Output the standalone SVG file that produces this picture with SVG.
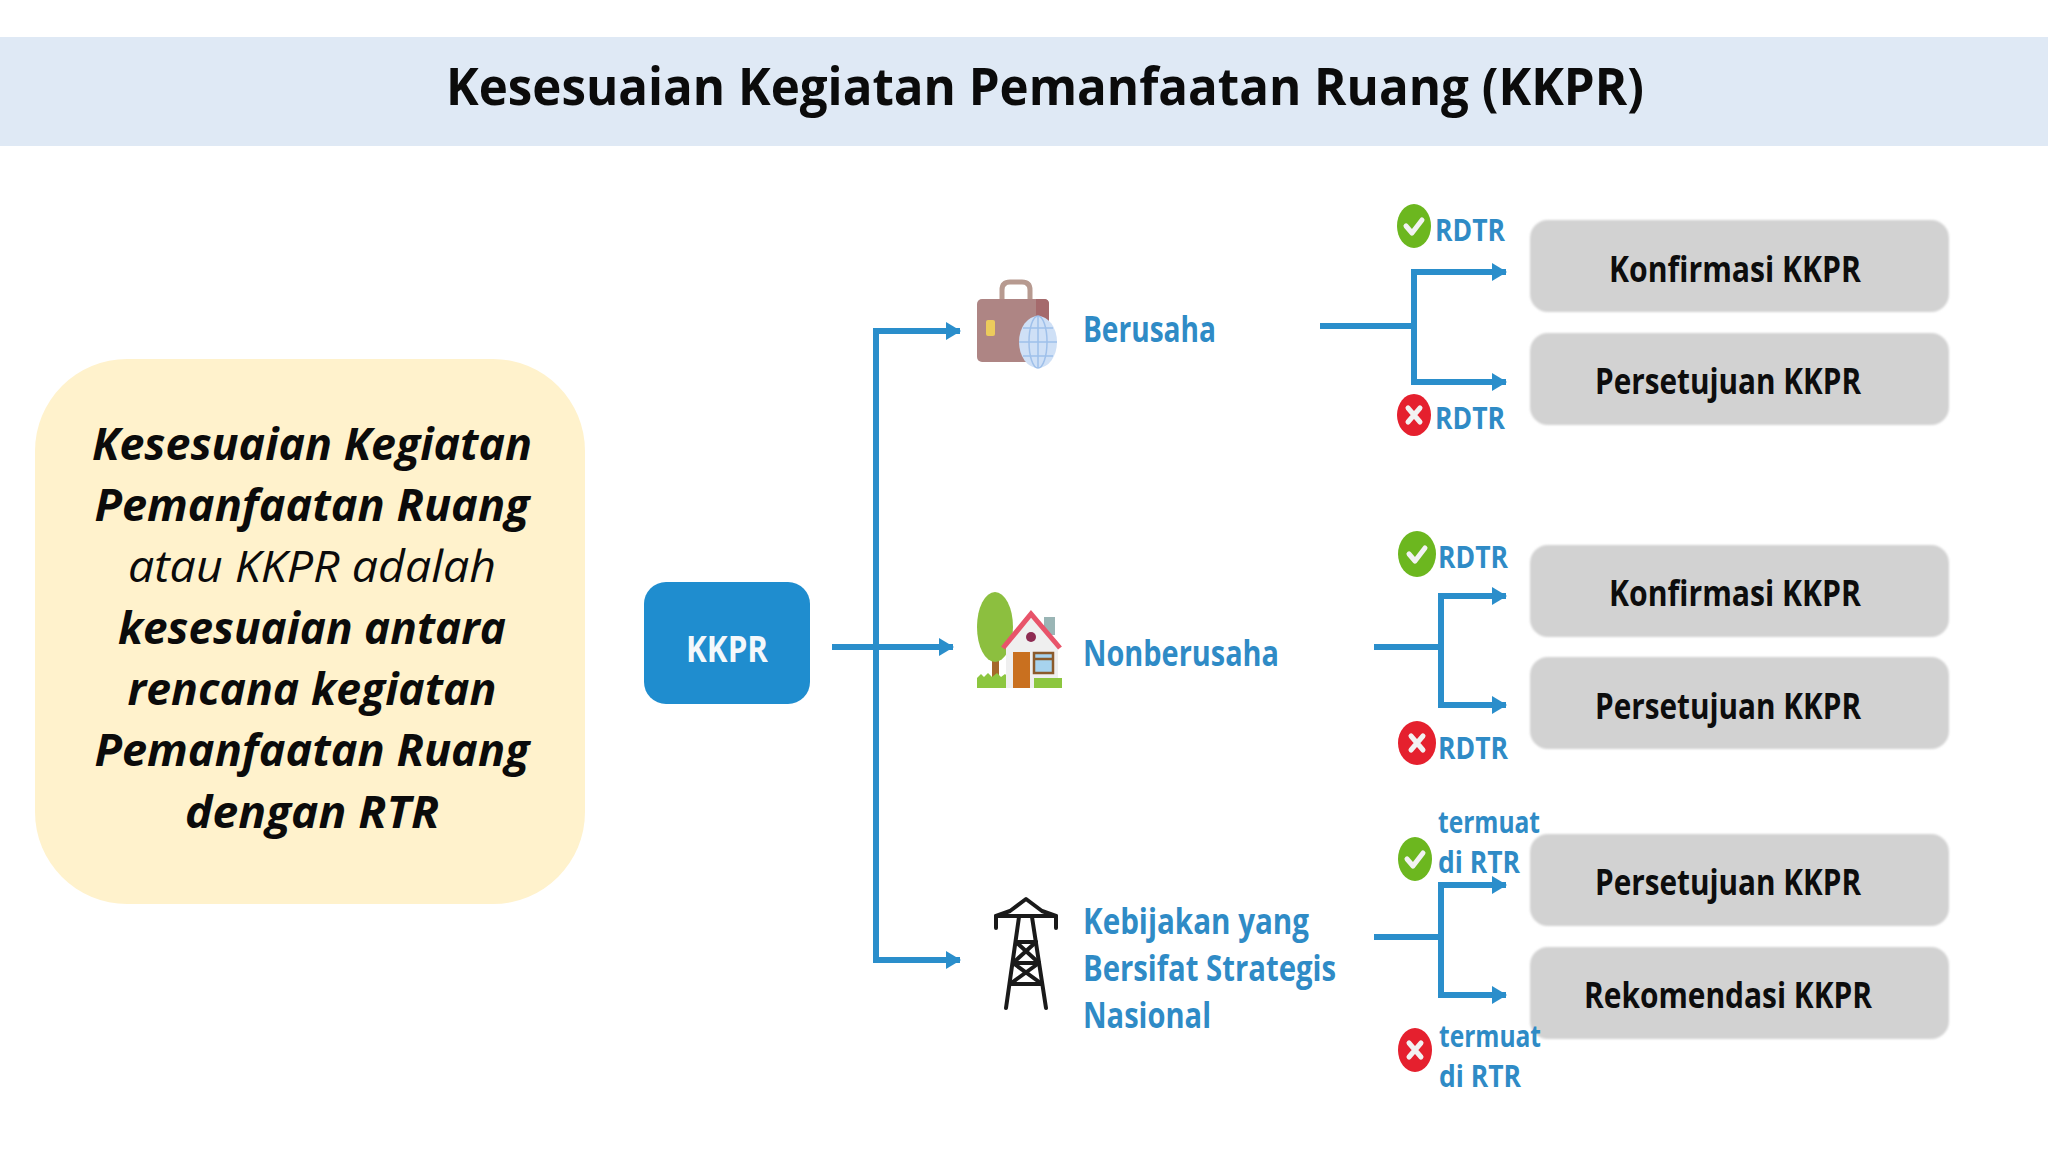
<svg xmlns="http://www.w3.org/2000/svg" width="2048" height="1152" viewBox="0 0 2048 1152">
<style>
text{font-family:"Open Sans","Noto Sans","Liberation Sans",sans-serif}
.title{font-size:52px;font-weight:700;fill:#0b0b0b}
.def{font-size:44px;fill:#0b0b0b;text-anchor:middle;font-style:italic}
.b{font-weight:700}
.n{font-weight:400}
.lbl{font-size:36px;font-weight:700;fill:#2f8bc6}
.sm{font-size:31px;font-weight:700;fill:#2f8bc6}
.act{font-size:35px;font-weight:700;fill:#0d0d0d}
.kb{fill:#d2d2d2;filter:url(#sh)}
.ln{fill:none;stroke:#2a8ecb;stroke-width:6}
.tw{fill:none;stroke:#1a1a1a;stroke-width:4;stroke-linecap:round;stroke-linejoin:round}
.mk{fill:none;stroke:#f2f2f2;stroke-width:5;stroke-linecap:round;stroke-linejoin:round}
</style>
<defs>
<marker id="ah" markerUnits="userSpaceOnUse" markerWidth="16" markerHeight="20" refX="14" refY="10" orient="auto"><path d="M0 1L15 10L0 19Z" fill="#2a8ecb"/></marker>
<filter id="sh" x="-5%" y="-10%" width="110%" height="120%"><feGaussianBlur stdDeviation="0.8"/></filter>
</defs>
<rect width="2048" height="1152" fill="#ffffff"/>
<rect id="title-band" x="0" y="37" width="2048" height="109" fill="#dfe9f5"/>
<text class="title" x="1045" y="105" text-anchor="middle" textLength="1198" lengthAdjust="spacingAndGlyphs">Kesesuaian Kegiatan Pemanfaatan Ruang (KKPR)</text>

<g id="definition">
<rect x="35" y="359" width="550" height="545" rx="92" fill="#fff2cc"/>
<text class="def b" x="312" y="460" textLength="440" lengthAdjust="spacingAndGlyphs">Kesesuaian Kegiatan</text>
<text class="def b" x="312" y="521" textLength="435" lengthAdjust="spacingAndGlyphs">Pemanfaatan Ruang</text>
<text class="def n" x="312" y="582" textLength="368" lengthAdjust="spacingAndGlyphs">atau KKPR adalah</text>
<text class="def b" x="312" y="644" textLength="388" lengthAdjust="spacingAndGlyphs">kesesuaian antara</text>
<text class="def b" x="312" y="705" textLength="369" lengthAdjust="spacingAndGlyphs">rencana kegiatan</text>
<text class="def b" x="312" y="766" textLength="435" lengthAdjust="spacingAndGlyphs">Pemanfaatan Ruang</text>
<text class="def b" x="312" y="828" textLength="254" lengthAdjust="spacingAndGlyphs">dengan RTR</text>
</g>

<g id="connectors">
<path class="ln" d="M832 647H953" marker-end="url(#ah)"/>
<path class="ln" d="M960 331H876V960H960" marker-end="url(#ah)"/>
<path class="ln" d="M876 331H960" marker-end="url(#ah)"/>
<path class="ln" d="M1320 326H1414"/>
<path class="ln" d="M1506 272H1414V382H1506" marker-end="url(#ah)"/>
<path class="ln" d="M1414 272H1506" marker-end="url(#ah)"/>
<path class="ln" d="M1374 647H1441"/>
<path class="ln" d="M1506 596H1441V705H1506" marker-end="url(#ah)"/>
<path class="ln" d="M1441 596H1506" marker-end="url(#ah)"/>
<path class="ln" d="M1374 937H1441"/>
<path class="ln" d="M1506 885H1441V995H1506" marker-end="url(#ah)"/>
<path class="ln" d="M1441 885H1506" marker-end="url(#ah)"/>
</g>

<g id="kkpr">
<rect x="644" y="582" width="166" height="122" rx="22" fill="#1f8dcf"/>
<text x="727" y="662" text-anchor="middle" font-size="36" font-weight="700" fill="#f4f8fb" textLength="82" lengthAdjust="spacingAndGlyphs">KKPR</text>
</g>

<g id="berusaha">
<path d="M1002 302v-12q0-8 8-8h12q8 0 8 8v12" fill="none" stroke="#b79a90" stroke-width="5"/>
<rect x="977" y="299" width="72" height="63" rx="5" fill="#ae8584"/>
<path d="M1036 299h8q5 0 5 5v20h-13z" fill="#a56a6c"/>
<rect x="986" y="320" width="9" height="16" rx="2" fill="#eccb5c"/>
<ellipse cx="1038" cy="342" rx="19" ry="26" fill="#cfe0f6"/>
<path d="M1038 316v52M1019 342h38M1023 328h30M1023 356h30" stroke="#9fc0ea" stroke-width="1.5" fill="none"/>
<ellipse cx="1038" cy="342" rx="9" ry="26" fill="none" stroke="#9fc0ea" stroke-width="1.5"/>
<text class="lbl" x="1083" y="342" textLength="133" lengthAdjust="spacingAndGlyphs">Berusaha</text>
</g>

<g id="nonberusaha">
<rect x="992" y="650" width="7" height="32" fill="#a5682a"/>
<ellipse cx="995" cy="627" rx="18" ry="35" fill="#8cbf3f"/>
<path d="M977 688v-10l4-4 3 3 4-4 4 4 5-4 4 4 4-3 4 4v10z" fill="#8cc63f"/>
<rect x="1044" y="617" width="11" height="18" fill="#9ab5b5"/>
<path d="M1031 616L1058 645V688H1006V645Z" fill="#efefef"/>
<path d="M1003 648L1031 614L1060 648" fill="none" stroke="#e8546a" stroke-width="5"/>
<circle cx="1031" cy="637" r="5" fill="#8e2b52"/>
<rect x="1013" y="652" width="17" height="36" fill="#c9701f"/>
<rect x="1034" y="653" width="19" height="20" fill="#a7d3ee" stroke="#8b5a2b" stroke-width="2.5"/>
<path d="M1034 659h19" stroke="#8b5a2b" stroke-width="2.5"/>
<rect x="1034" y="678" width="28" height="10" fill="#8cc63f"/>
<text class="lbl" x="1083" y="666" textLength="196" lengthAdjust="spacingAndGlyphs">Nonberusaha</text>
</g>

<g id="kebijakan">
<g class="tw">
<path d="M1026 899L1010 911L996 916H1056L1042 911Z"/>
<path d="M996 916V928M1056 916V928"/>
<path d="M1019 917L1006 1008M1032 917L1046 1008"/>
<path d="M1016 942H1036M1013 963H1039M1010 984H1042"/>
<path d="M1016 942L1039 963M1036 942L1013 963M1013 963L1042 984M1039 963L1010 984"/>
</g>
<text class="lbl" x="1083" y="934" textLength="226" lengthAdjust="spacingAndGlyphs">Kebijakan yang</text>
<text class="lbl" x="1083" y="981" textLength="253" lengthAdjust="spacingAndGlyphs">Bersifat Strategis</text>
<text class="lbl" x="1083" y="1028" textLength="128" lengthAdjust="spacingAndGlyphs">Nasional</text>
</g>

<g id="status-1a"><ellipse cx="1414" cy="226" rx="17" ry="22" fill="#6cb71f"/><path class="mk" d="M1406 226l6 7l10-13"/><text class="sm" x="1435" y="241" textLength="70" lengthAdjust="spacingAndGlyphs">RDTR</text></g>
<g id="status-1b"><ellipse cx="1414" cy="415" rx="17" ry="21" fill="#e5202e"/><path class="mk" d="M1408 408l12 14M1420 408l-12 14"/><text class="sm" x="1435" y="429" textLength="70" lengthAdjust="spacingAndGlyphs">RDTR</text></g>
<g id="status-2a"><ellipse cx="1417" cy="554" rx="19" ry="23" fill="#6cb71f"/><path class="mk" d="M1409 554l6 7l10-13"/><text class="sm" x="1438" y="568" textLength="70" lengthAdjust="spacingAndGlyphs">RDTR</text></g>
<g id="status-2b"><ellipse cx="1417" cy="743" rx="19" ry="22" fill="#e5202e"/><path class="mk" d="M1411 736l12 14M1423 736l-12 14"/><text class="sm" x="1438" y="759" textLength="70" lengthAdjust="spacingAndGlyphs">RDTR</text></g>
<g id="status-3a"><ellipse cx="1415" cy="859" rx="17" ry="22" fill="#6cb71f"/><path class="mk" d="M1407 859l6 7l10-13"/><text class="sm" x="1438" y="833" textLength="102" lengthAdjust="spacingAndGlyphs">termuat</text><text class="sm" x="1438" y="873" textLength="82" lengthAdjust="spacingAndGlyphs">di RTR</text></g>

<g id="box-1a"><rect class="kb" x="1530" y="220" width="419" height="92" rx="18"/><text class="act" x="1609" y="282" textLength="252" lengthAdjust="spacingAndGlyphs">Konfirmasi KKPR</text></g>
<g id="box-1b"><rect class="kb" x="1530" y="333" width="419" height="92" rx="18"/><text class="act" x="1595" y="394" textLength="266" lengthAdjust="spacingAndGlyphs">Persetujuan KKPR</text></g>
<g id="box-2a"><rect class="kb" x="1530" y="545" width="419" height="92" rx="18"/><text class="act" x="1609" y="606" textLength="252" lengthAdjust="spacingAndGlyphs">Konfirmasi KKPR</text></g>
<g id="box-2b"><rect class="kb" x="1530" y="657" width="419" height="92" rx="18"/><text class="act" x="1595" y="719" textLength="266" lengthAdjust="spacingAndGlyphs">Persetujuan KKPR</text></g>
<g id="box-3a"><rect class="kb" x="1530" y="834" width="419" height="92" rx="18"/><text class="act" x="1595" y="895" textLength="266" lengthAdjust="spacingAndGlyphs">Persetujuan KKPR</text></g>
<g id="box-3b"><rect class="kb" x="1530" y="947" width="419" height="92" rx="18"/><text class="act" x="1584" y="1008" textLength="288" lengthAdjust="spacingAndGlyphs">Rekomendasi KKPR</text></g>

<g id="status-3b"><ellipse cx="1415" cy="1050" rx="17" ry="22" fill="#e5202e"/><path class="mk" d="M1409 1043l12 14M1421 1043l-12 14"/><text class="sm" x="1439" y="1047" textLength="102" lengthAdjust="spacingAndGlyphs">termuat</text><text class="sm" x="1439" y="1087" textLength="82" lengthAdjust="spacingAndGlyphs">di RTR</text></g>
</svg>
